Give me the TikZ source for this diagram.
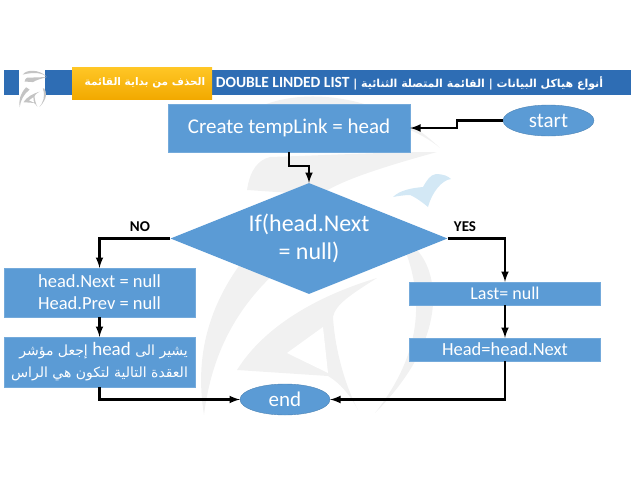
\documentclass[tikz,border=0pt]{standalone}
\usepackage{fontspec}
\setmainfont{Carlito}
\newfontfamily\arabicfont[Script=Arabic]{DejaVu Sans}
\TeXXeTstate=1
\usetikzlibrary{shapes.geometric}
\definecolor{boxblue}{HTML}{5B9BD5}
\definecolor{barblue}{HTML}{2E6DB4}
\definecolor{markgrey}{HTML}{F1F1F1}
\definecolor{logogrey}{HTML}{C4C4C4}
\definecolor{birdblue}{HTML}{D3E8F5}
\definecolor{goldtop}{HTML}{FFC726}
\definecolor{goldbot}{HTML}{F2A900}
\tikzset{
	flowbox/.style={draw=boxblue!85!white,fill=boxblue,text=white,minimum width=191pt,align=center,inner sep=0pt},
	flowoval/.style={ellipse,draw=boxblue!85!black,fill=boxblue,text=white,inner sep=0pt},
	link/.style={draw=black,line width=2.5pt,-latex},
	birdmark/.pic={
		\begin{scope}[shift={(-320,-255)}]
			% top swoosh
			\fill[#1] (230,130) .. controls (260,85) and (370,80) .. (440,148) .. controls (400,115) and (330,105) .. (230,130) -- cycle;
			% band under the box
			\fill[#1] (247,190) .. controls (250,170) and (258,160) .. (270,157) .. controls (330,155) and (390,152) .. (437,152) .. controls (390,165) and (340,180) .. (320,195) -- cycle;
			% left crescent
			\fill[#1] (204,415) .. controls (195,360) and (205,300) .. (260,240) -- (290,260) .. controls (240,300) and (212,350) .. (204,415) -- cycle;
			% wing
			\fill[#1] (237,370) .. controls (265,325) and (320,295) .. (377,278) .. controls (350,295) and (335,305) .. (333,317) .. controls (335,350) and (345,385) .. (358,410) .. controls (350,395) and (340,383) .. (328,376) -- cycle;
			\fill[white] (287,353) -- (323,327) -- (328,373) -- cycle;
			% right crescent
			\fill[#1] (417,250) .. controls (440,275) and (448,340) .. (375,413) .. controls (405,375) and (432,320) .. (405,250) -- cycle;
		\end{scope}
	}
}
\begin{document}
\begin{tikzpicture}[x=1pt,y=-1pt]
	\useasboundingbox (0,0) rectangle (638,493);
	% watermark
	\pic (markbig) at (320,255) {birdmark=markgrey};
	\fill[birdblue] (393,197) .. controls (400,190) and (412,188) .. (423,187) .. controls (427,180) and (430,175) .. (436,174) .. controls (443,174) and (448,176) .. (451,179) .. controls (442,180) and (432,192) .. (428,207) .. controls (422,202) and (415,197) .. (410,195) .. controls (405,195) and (398,196) .. (393,197) -- cycle;
	% header
	\fill[barblue] (4,70) rectangle (631,95);
	\fill[white] (19,68) rectangle (45,96);
	\pic[scale=0.115] (marksmall) at (33,89) {birdmark=logogrey};
	\node[inner sep=0pt,text=white,font=\arabicfont\bfseries\fontsize{11}{13}\selectfont] (title) at (409.5,83) {\beginR أنواع هياكل البيانات | القائمة المتصلة الثنائية | \beginL{\rmfamily\bfseries\fontsize{15.5}{17}\selectfont DOUBLE LINDED LIST}\endL\endR};
	\shade[top color=goldtop,bottom color=goldbot,draw=none] (72,67) rectangle (212,99);
	\node[inner sep=0pt,text=white,font=\arabicfont\bfseries\fontsize{10.5}{12}\selectfont] (part) at (145,83) {\beginR الحذف من بداية القائمة\endR};
	% flow
	\node[flowbox,minimum width=242pt,minimum height=48pt,font=\fontsize{21}{25}\selectfont] (create) at (289,128) {Create tempLink = head};
	\node[flowoval,minimum width=91pt,minimum height=31pt,font=\fontsize{21}{25}\selectfont] (start) at (548.5,120.5) {start};
	\node[diamond,aspect=2.5,fill=boxblue,text=white,inner sep=0pt,minimum width=277pt,minimum height=111pt,align=center,font=\fontsize{24}{28}\selectfont] (cond) at (309,238.5) {If(head.Next\\= null)};
	\node[flowbox,minimum height=49pt,font=\fontsize{18.5}{22}\selectfont] (nullbox) at (99.5,292.5) {head.Next = null\\Head.Prev = null};
	\node[flowbox,minimum height=50pt,align=right,font=\arabicfont\fontsize{14}{22}\selectfont] (pointbox) at (99.5,362) {\beginR يشير الى  \beginL{\rmfamily\fontsize{19}{22}\selectfont head}\endL\ إجعل مؤشر\endR\\\beginR العقدة التالية لتكون هي الراس\endR};
	\node[flowbox,minimum height=23pt,font=\fontsize{18}{22}\selectfont] (lastbox) at (505,293.5) {Last= null};
	\node[flowbox,minimum height=23pt,font=\fontsize{18.5}{22}\selectfont] (nextbox) at (505,349.5) {Head=head.Next};
	\node[flowoval,minimum width=90pt,minimum height=31pt,font=\fontsize{21}{25}\selectfont] (end) at (285,399.5) {end};
	\node[font=\bfseries\fontsize{15}{18}\selectfont] (no) at (140,227) {NO};
	\node[font=\bfseries\fontsize{15}{18}\selectfont] (yes) at (465,227) {YES};
	% connectors
	\draw[link] (start.west) -- ++(-46,0) |- (create.east);
	\draw[link] (create.south) -- ++(0,14) -| (cond.north);
	\draw[link] (cond.west) -| (nullbox.north);
	\draw[link] (cond.east) -| (lastbox.north);
	\draw[link] (nullbox.south) -- (pointbox.north);
	\draw[link] (lastbox.south) -- (nextbox.north);
	\draw[link] (pointbox.south) |- (end.west);
	\draw[link] (nextbox.south) |- (end.east);
\end{tikzpicture}
\end{document}
